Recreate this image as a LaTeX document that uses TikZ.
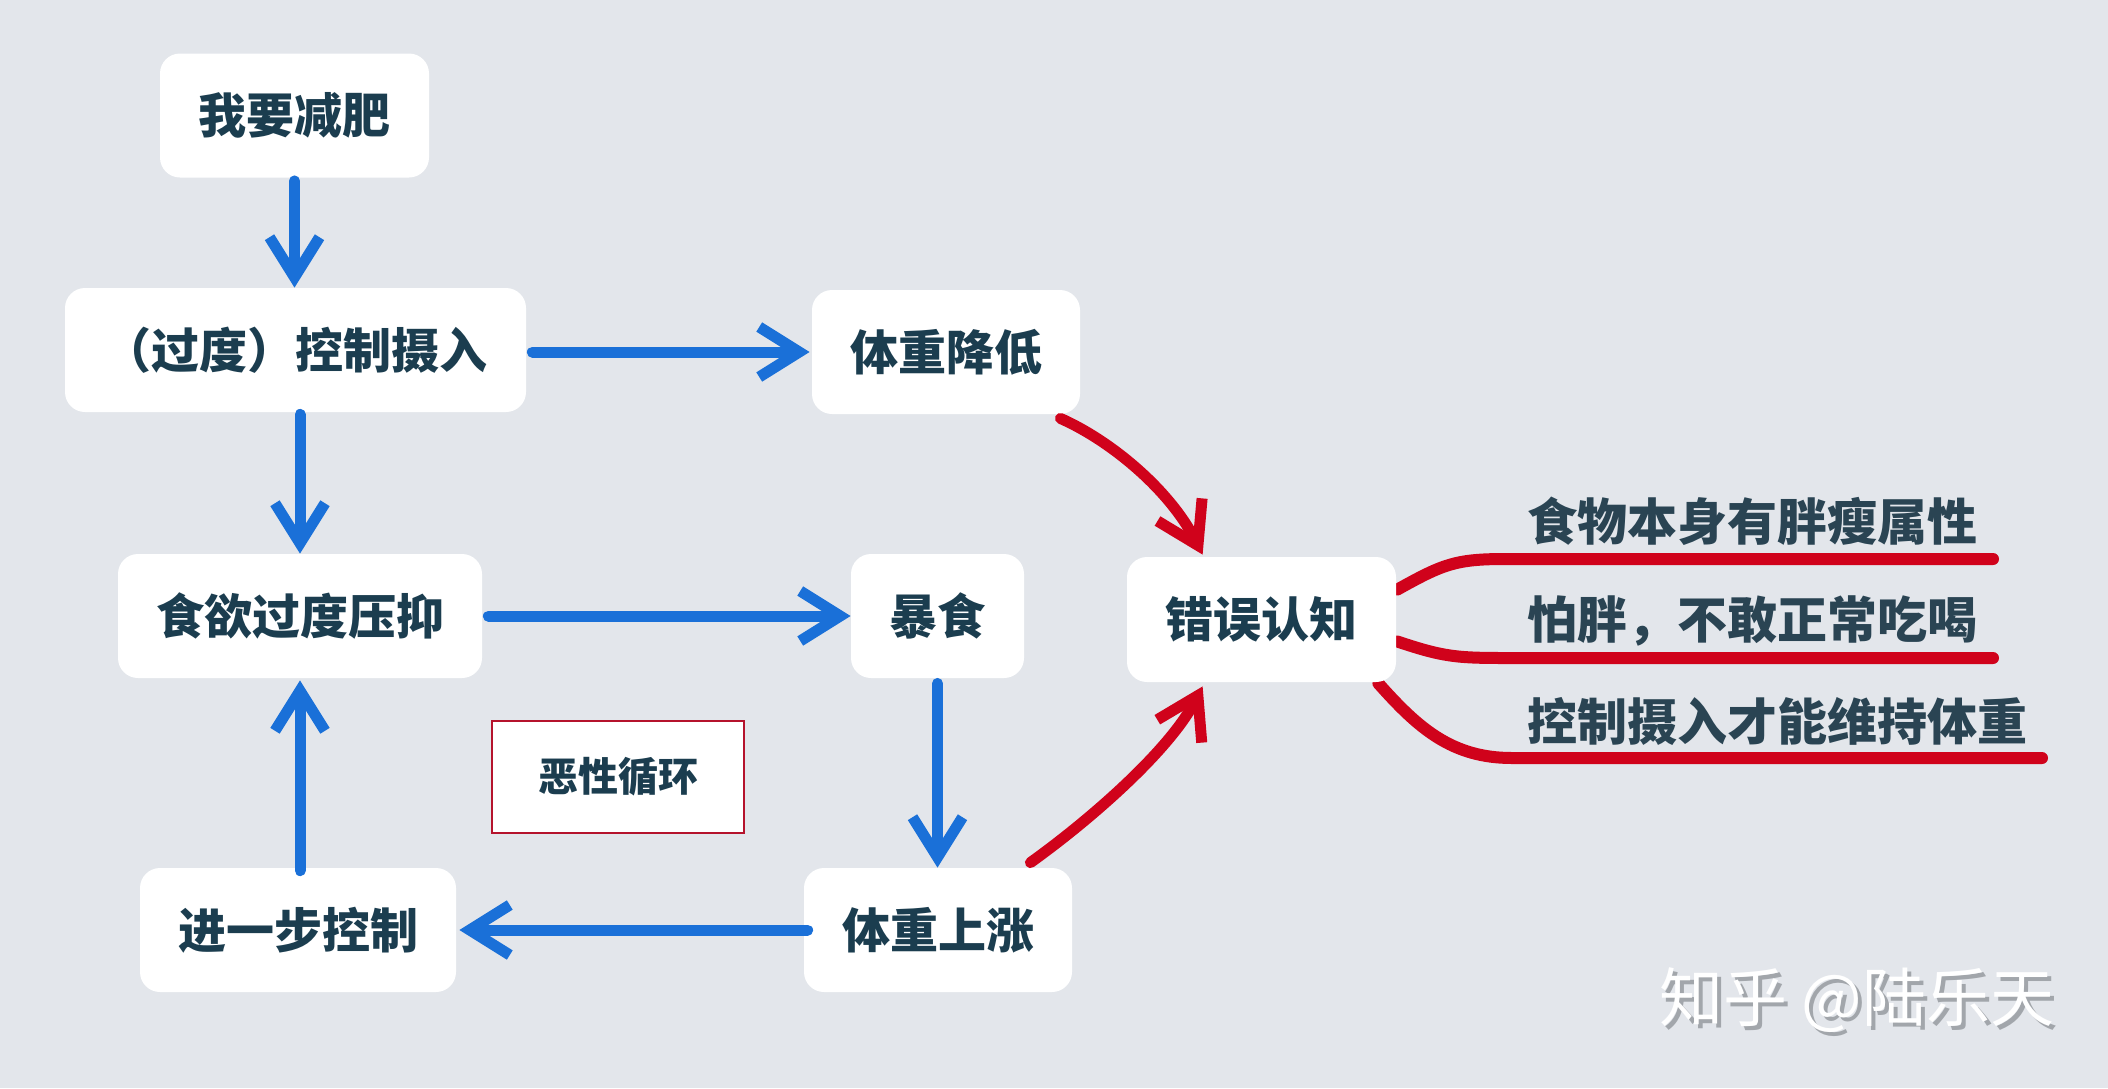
\documentclass[tikz,border=0pt]{standalone}
\usepackage{fontspec}
\setmainfont{Noto Sans CJK SC}
\usetikzlibrary{arrows.meta,calc}
\pgfdeclarelayer{bgl}
\pgfdeclarelayer{under}
\pgfsetlayers{bgl,under,main}
\definecolor{bg}{HTML}{E3E6EB}
\definecolor{blu}{HTML}{1A70D8}
\definecolor{rd}{HTML}{D0021B}
\definecolor{txt}{HTML}{1B3D4F}
\definecolor{txt2}{HTML}{2A4453}
\definecolor{vbord}{HTML}{B5132C}
\definecolor{wmshadow}{HTML}{A2A6AB}
\tikzset{
  box/.style={fill=white, rounded corners=10pt, minimum height=62pt, inner sep=0pt,
    text=txt, font=\fontsize{24pt}{28pt}\selectfont\bfseries},
  vbox/.style={fill=white, draw=vbord, line width=1pt, minimum width=126pt, minimum height=56pt,
    inner sep=0pt, text=txt, font=\fontsize{20pt}{24pt}\selectfont\bfseries},
  lab/.style={anchor=west, inner sep=0pt, text=txt2, font=\fontsize{25pt}{30pt}\selectfont\bfseries},
  barrow/.style={draw=blu, line width=5.5pt, line cap=round,
    -{Straight Barb[length=20pt,width=25pt,sharp]}},
  rarrow/.style={draw=rd, line width=5.5pt, line cap=round,
    -{Straight Barb[length=20pt,width=25pt,sharp]}},
  branch/.style={draw=rd, line width=6pt, line cap=round},
  wm/.style={inner sep=0pt, font=\fontsize{32pt}{38pt}\selectfont},
}
\begin{document}
\begin{tikzpicture}[x=0.5pt,y=-0.5pt]
\begin{pgfonlayer}{bgl}
\fill[bg] (0,0) rectangle (2108,1088);
\end{pgfonlayer}
\useasboundingbox (0,0) rectangle (2108,1088);

% boxes
\node[box, minimum width=134.5pt] (A) at (294.5,115.5) {我要减肥};
\node[box, minimum width=230.5pt] (B) at (295.5,350) {（过度）控制摄入};
\node[box, minimum width=134pt] (C) at (946,352) {体重降低};
\node[box, minimum width=182pt] (D) at (300,616) {食欲过度压抑};
\node[box, minimum width=86.5pt] (E) at (937.5,616) {暴食};
\node[box, minimum width=158pt] (F) at (298,930) {进一步控制};
\node[box, minimum width=134pt] (G) at (938,930) {体重上涨};
\node[vbox] (V) at (618,777) {恶性循环};
\node[box, minimum width=134.5pt, minimum height=62.5pt] (H) at (1261.5,619.5) {错误认知};

% red branches (under H)
\coordinate (b1m) at (1505,559);
\coordinate (b1e) at (1993,559);
\coordinate (b2m) at (1505,658);
\coordinate (b2e) at (1993,658);
\coordinate (b3m) at (1512,758);
\coordinate (b3e) at (2042,758);
\begin{pgfonlayer}{under}
\draw[branch] ($(H.east)+(1,-30)$) .. controls +(45,-25) and +(-50,0) .. (b1m) -- (b1e);
\draw[branch] ($(H.east)+(1,22)$) .. controls +(45,15) and +(-50,0) .. (b2m) -- (b2e);
\draw[branch] ($(H.south east)+(-18,1)$) .. controls +(40,45) and +(-60,0) .. (b3m) -- (b3e);
\end{pgfonlayer}

% labels
\node[lab] (t1) at (1527,521) {食物本身有胖瘦属性};
\node[lab] (t2) at (1527,621) {怕胖，不敢正常吃喝};
\node[lab] (t3) at (1527,721) {控制摄入才能维持体重};

% blue arrows
\draw[barrow, shorten <=1.5pt] (A.south) -- (A.south |- B.north);
\draw[barrow, shorten <=3pt, shorten >=1pt] (B.east |- C.west) -- (C.west);
\draw[barrow, shorten <=1pt] (B.south -| D.north) -- (D.north);
\draw[barrow, shorten <=3pt] (D.east) -- (D.east -| E.west);
\draw[barrow, shorten <=2.5pt] (E.south) -- (E.south |- G.north);
\draw[barrow, shorten <=-2pt, shorten >=1.5pt] (G.west) -- (F.east |- G.west);
\draw[barrow, shorten <=-1.5pt, shorten >=1pt] (F.north -| D.south) -- (D.south);

% red arrows
\coordinate (r1s) at ($(C.south east)+(-20,4)$);
\coordinate (r1e) at ($(H.north west)+(76,-2)$);
\coordinate (r2s) at ($(G.north east)+(-42,-5)$);
\coordinate (r2e) at ($(H.south west)+(76,4)$);
\draw[rarrow] (r1s) .. controls +(50,22) and +(-33,-65) .. (r1e);
\draw[rarrow] (r2s) .. controls +(60,-43) and +(-33,64) .. (r2e);

% watermark
\node[wm, text=wmshadow] (wms) at (1861,1004) {知乎 @陆乐天};
\node[wm, text=white] (wmt) at (1857,1000) {知乎 @陆乐天};
\end{tikzpicture}
\end{document}
